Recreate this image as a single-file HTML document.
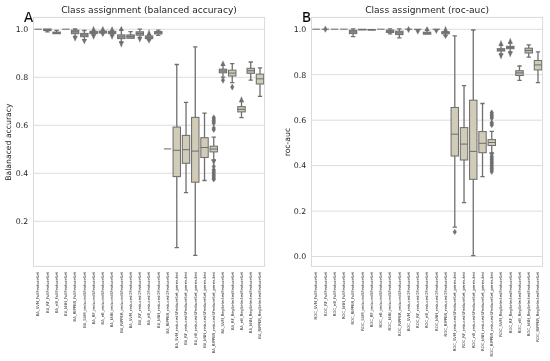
<!DOCTYPE html>
<html lang="en">
<head>
<meta charset="utf-8">
<title>Class assignment boxplots</title>
<style>
html,body{margin:0;padding:0;background:#fff;}
body{width:550px;height:361px;overflow:hidden;font-family:"DejaVu Sans","Liberation Sans",sans-serif;}
svg{display:block;}
</style>
</head>
<body>
<svg width="550" height="361" viewBox="0 0 550 361" font-family="'DejaVu Sans', 'Liberation Sans', sans-serif" fill="#262626">
<rect width="550" height="361" fill="#fff"/>
<g fill="none" stroke="#6f6f6f" stroke-width="1.05">
<line x1="33.5" x2="264.6" y1="29.3" y2="29.3" stroke="#dcdcdc" stroke-width="1"/>
<line x1="33.5" x2="264.6" y1="77.3" y2="77.3" stroke="#dcdcdc" stroke-width="1"/>
<line x1="33.5" x2="264.6" y1="125.3" y2="125.3" stroke="#dcdcdc" stroke-width="1"/>
<line x1="33.5" x2="264.6" y1="173.3" y2="173.3" stroke="#dcdcdc" stroke-width="1"/>
<line x1="33.5" x2="264.6" y1="221.3" y2="221.3" stroke="#dcdcdc" stroke-width="1"/>
<g><path d="M34.42 29.2H41.82"/></g>
<g><path d="M47.37 30.6V31.9M45.22 31.9H49.52" stroke-width="1.3"/><rect x="43.67" y="29" width="7.4" height="1.6" fill="#908f88"/><path d="M43.67 29.8H51.06"/></g>
<g><path d="M56.61 32.1V30.3M54.46 30.3H58.76" stroke-width="1.3"/><rect x="52.91" y="32.1" width="7.4" height="1.6" fill="#908f88"/><path d="M52.91 32.9H60.31"/></g>
<g><path d="M62.16 29.2H69.55"/></g>
<g><path d="M75.1 30.2V29M72.95 29H77.25" stroke-width="1.3"/><path d="M75.1 33.7V36.5M72.95 36.5H77.25" stroke-width="1.3"/><rect x="71.4" y="30.2" width="7.4" height="3.5" fill="#9d9b92"/><path d="M71.4 31.8H78.8"/><path d="M72.95 36.4H77.25L75.1 41.3Z" fill="#6f6f6f" stroke-width="0.3"/></g>
<g><path d="M84.34 33.4V30.5M82.19 30.5H86.49" stroke-width="1.3"/><path d="M84.34 36.7V39.7M82.19 39.7H86.49" stroke-width="1.3"/><rect x="80.64" y="33.4" width="7.4" height="3.3" fill="#98968e"/><path d="M80.64 35H88.04"/><path d="M82.19 39.3H86.49L84.34 44Z" fill="#6f6f6f" stroke-width="0.3"/></g>
<g><path d="M93.59 33.6V34.8M91.44 34.8H95.74" stroke-width="1.3"/><rect x="89.89" y="31.3" width="7.4" height="2.3" fill="#908f88"/><path d="M89.89 32.4H97.28"/><path d="M91.44 31.3H95.74L93.59 26.3Z" fill="#6f6f6f" stroke-width="0.3"/><path d="M91.44 34.6H95.74L93.59 39.4Z" fill="#6f6f6f" stroke-width="0.3"/></g>
<g><rect x="99.13" y="31.1" width="7.4" height="1.9" fill="#908f88"/><path d="M99.13 32H106.53"/><path d="M100.68 31.1H104.98L102.83 26.3Z" fill="#6f6f6f" stroke-width="0.3"/><path d="M100.68 33H104.98L102.83 36.7Z" fill="#6f6f6f" stroke-width="0.3"/></g>
<g><path d="M112.07 33.6V34.8M109.92 34.8H114.22" stroke-width="1.3"/><rect x="108.38" y="31.3" width="7.4" height="2.3" fill="#908f88"/><path d="M108.38 32.4H115.77"/><path d="M109.92 31.3H114.22L112.07 26.6Z" fill="#6f6f6f" stroke-width="0.3"/><path d="M109.92 34.6H114.22L112.07 39.4Z" fill="#6f6f6f" stroke-width="0.3"/></g>
<g><path d="M121.32 34.9V30.4M119.17 30.4H123.47" stroke-width="1.3"/><path d="M121.32 38.6V42M119.17 42H123.47" stroke-width="1.3"/><rect x="117.62" y="34.9" width="7.4" height="3.7" fill="#a2a095"/><path d="M117.62 36.8H125.02"/><path d="M119.17 30.6H123.47L121.32 26.3Z" fill="#6f6f6f" stroke-width="0.3"/><path d="M119.17 41.8H123.47L121.32 47.2Z" fill="#6f6f6f" stroke-width="0.3"/></g>
<g><path d="M130.56 34.9V31.7M128.41 31.7H132.71" stroke-width="1.3"/><rect x="126.86" y="34.9" width="7.4" height="3.4" fill="#9a9990"/><path d="M126.86 36.6H134.26"/></g>
<g><path d="M139.81 31.8V29.1M137.66 29.1H141.96" stroke-width="1.3"/><path d="M139.81 35.2V37.5M137.66 37.5H141.96" stroke-width="1.3"/><rect x="136.11" y="31.8" width="7.4" height="3.4" fill="#9a9990"/><path d="M136.11 33.5H143.5"/><path d="M137.66 37.3H141.96L139.81 42.3Z" fill="#6f6f6f" stroke-width="0.3"/></g>
<g><path d="M149.05 35.9V35M146.9 35H151.2" stroke-width="1.3"/><path d="M149.05 38.6V39.5M146.9 39.5H151.2" stroke-width="1.3"/><rect x="145.35" y="35.9" width="7.4" height="2.7" fill="#908f88"/><path d="M145.35 37.3H152.75"/><path d="M147.15 35H150.95L149.05 29.4Z" fill="#6f6f6f" stroke-width="0.3"/><path d="M146.9 39.3H151.2L149.05 43.3Z" fill="#6f6f6f" stroke-width="0.3"/></g>
<g><path d="M158.29 31.6V30.1M156.14 30.1H160.44" stroke-width="1.3"/><path d="M158.29 33.9V35.3M156.14 35.3H160.44" stroke-width="1.3"/><rect x="154.6" y="31.6" width="7.4" height="2.3" fill="#908f88"/><path d="M154.6 32.8H161.99"/></g>
<g><path d="M163.84 148.9H171.24"/></g>
<g><path d="M176.78 127.1V64.5M174.63 64.5H178.93" stroke-width="1.3"/><path d="M176.78 176.6V247.7M174.63 247.7H178.93" stroke-width="1.3"/><rect x="173.08" y="127.1" width="7.4" height="49.5" fill="#d0ccb8"/><path d="M173.08 150.3H180.48"/></g>
<g><path d="M186.03 135.4V102.3M183.88 102.3H188.18" stroke-width="1.3"/><path d="M186.03 163.3V192.7M183.88 192.7H188.18" stroke-width="1.3"/><rect x="182.33" y="135.4" width="7.4" height="27.9" fill="#d0ccb8"/><path d="M182.33 149.7H189.72"/></g>
<g><path d="M195.27 117.4V46.8M193.12 46.8H197.42" stroke-width="1.3"/><path d="M195.27 182.2V255.4M193.12 255.4H197.42" stroke-width="1.3"/><rect x="191.57" y="117.4" width="7.4" height="64.8" fill="#d0ccb8"/><path d="M191.57 151.1H198.97"/></g>
<g><path d="M204.51 137.7V113.1M202.36 113.1H206.66" stroke-width="1.3"/><path d="M204.51 157.5V180.5M202.36 180.5H206.66" stroke-width="1.3"/><rect x="200.82" y="137.7" width="7.4" height="19.8" fill="#d0ccb8"/><path d="M200.82 147.5H208.21"/></g>
<g><path d="M213.76 146.2V137.2M211.61 137.2H215.91" stroke-width="1.3"/><path d="M213.76 151.9V160M211.61 160H215.91" stroke-width="1.3"/><rect x="210.06" y="146.2" width="7.4" height="5.7" fill="#d0ccb8"/><path d="M210.06 149H217.46"/><path d="M213.76 114.8L215.56 117.5L213.76 120.2L211.96 117.5Z" fill="#6f6f6f" stroke-width="0.4"/><path d="M213.76 116.3L215.56 119L213.76 121.7L211.96 119Z" fill="#6f6f6f" stroke-width="0.4"/><path d="M213.76 117.8L215.56 120.5L213.76 123.2L211.96 120.5Z" fill="#6f6f6f" stroke-width="0.4"/><path d="M213.76 119.3L215.56 122L213.76 124.7L211.96 122Z" fill="#6f6f6f" stroke-width="0.4"/><path d="M213.76 120.6L215.56 123.3L213.76 126L211.96 123.3Z" fill="#6f6f6f" stroke-width="0.4"/><path d="M213.76 125.3L215.56 128L213.76 130.7L211.96 128Z" fill="#6f6f6f" stroke-width="0.4"/><path d="M213.76 127.1L215.56 129.8L213.76 132.5L211.96 129.8Z" fill="#6f6f6f" stroke-width="0.4"/><path d="M211.61 159.8H215.91L213.76 164.9Z" fill="#6f6f6f" stroke-width="0.3"/><path d="M213.76 163.7L215.56 166.4L213.76 169.1L211.96 166.4Z" fill="#6f6f6f" stroke-width="0.4"/><path d="M213.76 167L215.56 169.7L213.76 172.4L211.96 169.7Z" fill="#6f6f6f" stroke-width="0.4"/><path d="M213.76 168.3L215.56 171L213.76 173.7L211.96 171Z" fill="#6f6f6f" stroke-width="0.4"/><path d="M213.76 169.8L215.56 172.5L213.76 175.2L211.96 172.5Z" fill="#6f6f6f" stroke-width="0.4"/><path d="M213.76 171.3L215.56 174L213.76 176.7L211.96 174Z" fill="#6f6f6f" stroke-width="0.4"/><path d="M213.76 172.8L215.56 175.5L213.76 178.2L211.96 175.5Z" fill="#6f6f6f" stroke-width="0.4"/><path d="M213.76 174.3L215.56 177L213.76 179.7L211.96 177Z" fill="#6f6f6f" stroke-width="0.4"/><path d="M213.76 175.8L215.56 178.5L213.76 181.2L211.96 178.5Z" fill="#6f6f6f" stroke-width="0.4"/><path d="M213.76 176.7L215.56 179.4L213.76 182.1L211.96 179.4Z" fill="#6f6f6f" stroke-width="0.4"/></g>
<g><path d="M223 69.2V65.4M220.85 65.4H225.15" stroke-width="1.3"/><path d="M223 72.8V77.1M220.85 77.1H225.15" stroke-width="1.3"/><rect x="219.3" y="69.2" width="7.4" height="3.6" fill="#9f9e94"/><path d="M219.3 71H226.7"/><path d="M220.85 65.6H225.15L223 60.7Z" fill="#6f6f6f" stroke-width="0.3"/><path d="M223 77.1L224.75 80.2L223 83.3L221.25 80.2Z" fill="#6f6f6f" stroke-width="0.4"/></g>
<g><path d="M232.25 70.2V63.6M230.1 63.6H234.4" stroke-width="1.3"/><path d="M232.25 76V82.7M230.1 82.7H234.4" stroke-width="1.3"/><rect x="228.55" y="70.2" width="7.4" height="5.8" fill="#d0ccb8"/><path d="M228.55 73.1H235.94"/><path d="M232.25 84L234 87.1L232.25 90.2L230.5 87.1Z" fill="#6f6f6f" stroke-width="0.4"/></g>
<g><path d="M241.49 106.6V101.6M239.34 101.6H243.64" stroke-width="1.3"/><path d="M241.49 111.9V117.7M239.34 117.7H243.64" stroke-width="1.3"/><rect x="237.79" y="106.6" width="7.4" height="5.3" fill="#cbc7b4"/><path d="M237.79 109.3H245.19"/><path d="M239.34 101.8H243.64L241.49 96.6Z" fill="#6f6f6f" stroke-width="0.3"/></g>
<g><path d="M250.73 68.3V62M248.58 62H252.88" stroke-width="1.3"/><path d="M250.73 73.3V80.1M248.58 80.1H252.88" stroke-width="1.3"/><rect x="247.04" y="68.3" width="7.4" height="5" fill="#c3c0ae"/><path d="M247.04 70.7H254.43"/></g>
<g><path d="M259.98 74.1V67.8M257.83 67.8H262.13" stroke-width="1.3"/><path d="M259.98 84V96.3M257.83 96.3H262.13" stroke-width="1.3"/><rect x="256.28" y="74.1" width="7.4" height="9.9" fill="#d0ccb8"/><path d="M256.28 78.8H263.68"/></g>
</g>
<rect x="33.5" y="17.4" width="231.1" height="249" fill="none" stroke="#dadada" stroke-width="1"/>
<text x="28.2" y="32.1" font-size="7.8" text-anchor="end">1.0</text>
<text x="28.2" y="80.1" font-size="7.8" text-anchor="end">0.8</text>
<text x="28.2" y="128.1" font-size="7.8" text-anchor="end">0.6</text>
<text x="28.2" y="176.1" font-size="7.8" text-anchor="end">0.4</text>
<text x="28.2" y="224.1" font-size="7.8" text-anchor="end">0.2</text>
<text x="149.05" y="13.4" font-size="9.15" text-anchor="middle">Class assignment (balanced accuracy)</text>
<text transform="translate(10.6 142.1) rotate(-90)" font-size="7.7" text-anchor="middle">Balanaced accuracy</text>
<text x="24" y="21.65" font-size="13.3" fill="#000" stroke="#000" stroke-width="0.12">A</text>
<text transform="translate(39.42 272.0) rotate(-90) scale(0.1)" font-size="38.1" text-anchor="end" fill="#363636">BA_SVM_FullFeatureSet</text>
<text transform="translate(48.67 272.0) rotate(-90) scale(0.1)" font-size="38.1" text-anchor="end" fill="#363636">BA_RF_FullFeatureSet</text>
<text transform="translate(57.91 272.0) rotate(-90) scale(0.1)" font-size="38.1" text-anchor="end" fill="#363636">BA_nB_FullFeatureSet</text>
<text transform="translate(67.15 272.0) rotate(-90) scale(0.1)" font-size="38.1" text-anchor="end" fill="#363636">BA_kNN_FullFeatureSet</text>
<text transform="translate(76.4 272.0) rotate(-90) scale(0.1)" font-size="38.1" text-anchor="end" fill="#363636">BA_RIPPER_FullFeatureSet</text>
<text transform="translate(85.64 272.0) rotate(-90) scale(0.1)" font-size="38.1" text-anchor="end" fill="#363636">BA_SVM_reducedSFeatureSet</text>
<text transform="translate(94.89 272.0) rotate(-90) scale(0.1)" font-size="38.1" text-anchor="end" fill="#363636">BA_RF_reducedSFeatureSet</text>
<text transform="translate(104.13 272.0) rotate(-90) scale(0.1)" font-size="38.1" text-anchor="end" fill="#363636">BA_nB_reducedSFeatureSet</text>
<text transform="translate(113.37 272.0) rotate(-90) scale(0.1)" font-size="38.1" text-anchor="end" fill="#363636">BA_kNN_reducedSFeatureSet</text>
<text transform="translate(122.62 272.0) rotate(-90) scale(0.1)" font-size="38.1" text-anchor="end" fill="#363636">BA_RIPPER_reducedSFeatureSet</text>
<text transform="translate(131.86 272.0) rotate(-90) scale(0.1)" font-size="38.1" text-anchor="end" fill="#363636">BA_SVM_reducedGFeatureSet</text>
<text transform="translate(141.11 272.0) rotate(-90) scale(0.1)" font-size="38.1" text-anchor="end" fill="#363636">BA_RF_reducedGFeatureSet</text>
<text transform="translate(150.35 272.0) rotate(-90) scale(0.1)" font-size="38.1" text-anchor="end" fill="#363636">BA_nB_reducedGFeatureSet</text>
<text transform="translate(159.59 272.0) rotate(-90) scale(0.1)" font-size="38.1" text-anchor="end" fill="#363636">BA_kNN_reducedGFeatureSet</text>
<text transform="translate(168.84 272.0) rotate(-90) scale(0.1)" font-size="38.1" text-anchor="end" fill="#363636">BA_RIPPER_reducedGFeatureSet</text>
<text transform="translate(178.08 272.0) rotate(-90) scale(0.1)" font-size="38.1" text-anchor="end" fill="#363636">BA_SVM_reducedSFeatureSet_permuted</text>
<text transform="translate(187.33 272.0) rotate(-90) scale(0.1)" font-size="38.1" text-anchor="end" fill="#363636">BA_RF_reducedSFeatureSet_permuted</text>
<text transform="translate(196.57 272.0) rotate(-90) scale(0.1)" font-size="38.1" text-anchor="end" fill="#363636">BA_nB_reducedSFeatureSet_permuted</text>
<text transform="translate(205.81 272.0) rotate(-90) scale(0.1)" font-size="38.1" text-anchor="end" fill="#363636">BA_kNN_reducedSFeatureSet_permuted</text>
<text transform="translate(215.06 272.0) rotate(-90) scale(0.1)" font-size="38.1" text-anchor="end" fill="#363636">BA_RIPPER_reducedSFeatureSet_permuted</text>
<text transform="translate(224.3 272.0) rotate(-90) scale(0.1)" font-size="38.1" text-anchor="end" fill="#363636">BA_SVM_RegSelectedFeatureSet</text>
<text transform="translate(233.55 272.0) rotate(-90) scale(0.1)" font-size="38.1" text-anchor="end" fill="#363636">BA_RF_RegSelectedFeatureSet</text>
<text transform="translate(242.79 272.0) rotate(-90) scale(0.1)" font-size="38.1" text-anchor="end" fill="#363636">BA_nB_RegSelectedFeatureSet</text>
<text transform="translate(252.03 272.0) rotate(-90) scale(0.1)" font-size="38.1" text-anchor="end" fill="#363636">BA_kNN_RegSelectedFeatureSet</text>
<text transform="translate(261.28 272.0) rotate(-90) scale(0.1)" font-size="38.1" text-anchor="end" fill="#363636">BA_RIPPER_RegSelectedFeatureSet</text>
<g fill="none" stroke="#6f6f6f" stroke-width="1.05">
<line x1="311.5" x2="542.6" y1="29.3" y2="29.3" stroke="#dcdcdc" stroke-width="1"/>
<line x1="311.5" x2="542.6" y1="74.7" y2="74.7" stroke="#dcdcdc" stroke-width="1"/>
<line x1="311.5" x2="542.6" y1="120.2" y2="120.2" stroke="#dcdcdc" stroke-width="1"/>
<line x1="311.5" x2="542.6" y1="165.6" y2="165.6" stroke="#dcdcdc" stroke-width="1"/>
<line x1="311.5" x2="542.6" y1="211.1" y2="211.1" stroke="#dcdcdc" stroke-width="1"/>
<line x1="311.5" x2="542.6" y1="256.5" y2="256.5" stroke="#dcdcdc" stroke-width="1"/>
<g><path d="M312.42 29.2H319.82"/></g>
<g><path d="M321.67 29.2H329.06"/><path d="M325.37 26.1L327.12 29.2L325.37 32.3L323.62 29.2Z" fill="#6f6f6f" stroke-width="0.4"/></g>
<g><path d="M330.91 29.2H338.31"/></g>
<g><path d="M340.16 29.2H347.55"/></g>
<g><path d="M353.1 30.3V28.9M350.95 28.9H355.25" stroke-width="1.3"/><path d="M353.1 33.6V36.6M350.95 36.6H355.25" stroke-width="1.3"/><rect x="349.4" y="30.3" width="7.4" height="3.3" fill="#98968e"/><path d="M349.4 31.9H356.8"/></g>
<g><rect x="358.64" y="29.3" width="7.4" height="0.6" fill="#908f88"/><path d="M358.64 29.6H366.04"/></g>
<g><rect x="367.89" y="29.5" width="7.4" height="0.6" fill="#908f88"/><path d="M367.89 29.8H375.28"/></g>
<g><path d="M377.13 29.2H384.53"/></g>
<g><path d="M390.07 30.1V28.9M387.92 28.9H392.22" stroke-width="1.3"/><path d="M390.07 32.4V33.8M387.92 33.8H392.22" stroke-width="1.3"/><rect x="386.38" y="30.1" width="7.4" height="2.3" fill="#908f88"/><path d="M386.38 31.2H393.77"/></g>
<g><path d="M399.32 31.2V28.9M397.17 28.9H401.47" stroke-width="1.3"/><path d="M399.32 34.6V37.8M397.17 37.8H401.47" stroke-width="1.3"/><rect x="395.62" y="31.2" width="7.4" height="3.4" fill="#9a9990"/><path d="M395.62 32.9H403.02"/></g>
<g><path d="M404.86 29.2H412.26"/><path d="M408.56 26.4L410.31 29.5L408.56 32.6L406.81 29.5Z" fill="#6f6f6f" stroke-width="0.4"/></g>
<g><path d="M414.11 29.3H421.5"/><path d="M415.21 29.3H420.41L417.81 34.3Z" fill="#6f6f6f" stroke-width="0.3"/></g>
<g><path d="M427.05 32.2V30.3M424.9 30.3H429.2" stroke-width="1.3"/><rect x="423.35" y="32.2" width="7.4" height="2" fill="#908f88"/><path d="M423.35 33.2H430.75"/><path d="M424.9 30.5H429.2L427.05 26.6Z" fill="#6f6f6f" stroke-width="0.3"/></g>
<g><path d="M432.6 29.2H439.99"/><path d="M433.89 29.2H438.69L436.29 33.6Z" fill="#6f6f6f" stroke-width="0.3"/></g>
<g><path d="M445.54 33.8V35.2M443.39 35.2H447.69" stroke-width="1.3"/><rect x="441.84" y="31.7" width="7.4" height="2.1" fill="#908f88"/><path d="M441.84 32.7H449.24"/><path d="M443.39 31.7H447.69L445.54 26.2Z" fill="#6f6f6f" stroke-width="0.3"/><path d="M443.39 35H447.69L445.54 38.7Z" fill="#6f6f6f" stroke-width="0.3"/></g>
<g><path d="M454.78 107.5V35.8M452.63 35.8H456.93" stroke-width="1.3"/><path d="M454.78 156V227.2M452.63 227.2H456.93" stroke-width="1.3"/><rect x="451.08" y="107.5" width="7.4" height="48.5" fill="#d0ccb8"/><path d="M451.08 134.2H458.48"/><path d="M454.78 229.2L456.58 231.9L454.78 234.6L452.98 231.9Z" fill="#6f6f6f" stroke-width="0.4"/></g>
<g><path d="M464.03 127.6V85.7M461.88 85.7H466.18" stroke-width="1.3"/><path d="M464.03 160V202.7M461.88 202.7H466.18" stroke-width="1.3"/><rect x="460.33" y="127.6" width="7.4" height="32.4" fill="#d0ccb8"/><path d="M460.33 144.1H467.72"/></g>
<g><path d="M473.27 100.2V30M471.12 30H475.42" stroke-width="1.3"/><path d="M473.27 179.3V255.7M471.12 255.7H475.42" stroke-width="1.3"/><rect x="469.57" y="100.2" width="7.4" height="79.1" fill="#d0ccb8"/><path d="M469.57 151.4H476.97"/></g>
<g><path d="M482.51 131.6V103.5M480.36 103.5H484.66" stroke-width="1.3"/><path d="M482.51 152.7V176.6M480.36 176.6H484.66" stroke-width="1.3"/><rect x="478.82" y="131.6" width="7.4" height="21.1" fill="#d0ccb8"/><path d="M478.82 143.3H486.21"/></g>
<g><path d="M491.76 139.6V131.4M489.61 131.4H493.91" stroke-width="1.3"/><path d="M491.76 145.5V153M489.61 153H493.91" stroke-width="1.3"/><rect x="488.06" y="139.6" width="7.4" height="5.9" fill="#d0ccb8"/><path d="M488.06 142.5H495.46"/><path d="M491.76 109.8L493.56 112.5L491.76 115.2L489.96 112.5Z" fill="#6f6f6f" stroke-width="0.4"/><path d="M491.76 111.3L493.56 114L491.76 116.7L489.96 114Z" fill="#6f6f6f" stroke-width="0.4"/><path d="M491.76 112.8L493.56 115.5L491.76 118.2L489.96 115.5Z" fill="#6f6f6f" stroke-width="0.4"/><path d="M491.76 114.3L493.56 117L491.76 119.7L489.96 117Z" fill="#6f6f6f" stroke-width="0.4"/><path d="M491.76 115.5L493.56 118.2L491.76 120.9L489.96 118.2Z" fill="#6f6f6f" stroke-width="0.4"/><path d="M491.76 119.8L493.56 122.5L491.76 125.2L489.96 122.5Z" fill="#6f6f6f" stroke-width="0.4"/><path d="M491.76 121.3L493.56 124L491.76 126.7L489.96 124Z" fill="#6f6f6f" stroke-width="0.4"/><path d="M491.76 122.3L493.56 125L491.76 127.7L489.96 125Z" fill="#6f6f6f" stroke-width="0.4"/><path d="M489.61 152.8H493.91L491.76 157.5Z" fill="#6f6f6f" stroke-width="0.3"/><path d="M491.76 153.8L493.56 156.5L491.76 159.2L489.96 156.5Z" fill="#6f6f6f" stroke-width="0.4"/><path d="M491.76 155.3L493.56 158L491.76 160.7L489.96 158Z" fill="#6f6f6f" stroke-width="0.4"/><path d="M491.76 156.8L493.56 159.5L491.76 162.2L489.96 159.5Z" fill="#6f6f6f" stroke-width="0.4"/><path d="M491.76 158.3L493.56 161L491.76 163.7L489.96 161Z" fill="#6f6f6f" stroke-width="0.4"/><path d="M491.76 159.8L493.56 162.5L491.76 165.2L489.96 162.5Z" fill="#6f6f6f" stroke-width="0.4"/><path d="M491.76 161.3L493.56 164L491.76 166.7L489.96 164Z" fill="#6f6f6f" stroke-width="0.4"/><path d="M491.76 162.8L493.56 165.5L491.76 168.2L489.96 165.5Z" fill="#6f6f6f" stroke-width="0.4"/><path d="M491.76 164.3L493.56 167L491.76 169.7L489.96 167Z" fill="#6f6f6f" stroke-width="0.4"/><path d="M491.76 165.8L493.56 168.5L491.76 171.2L489.96 168.5Z" fill="#6f6f6f" stroke-width="0.4"/><path d="M491.76 167.3L493.56 170L491.76 172.7L489.96 170Z" fill="#6f6f6f" stroke-width="0.4"/><path d="M491.76 169.1L493.56 171.8L491.76 174.5L489.96 171.8Z" fill="#6f6f6f" stroke-width="0.4"/></g>
<g><path d="M501 48.7V45.4M498.85 45.4H503.15" stroke-width="1.3"/><path d="M501 51V54M498.85 54H503.15" stroke-width="1.3"/><rect x="497.3" y="48.7" width="7.4" height="2.3" fill="#908f88"/><path d="M497.3 50H504.7"/><path d="M498.85 45.6H503.15L501 40.4Z" fill="#6f6f6f" stroke-width="0.3"/><path d="M498.85 53.8H503.15L501 58.9Z" fill="#6f6f6f" stroke-width="0.3"/></g>
<g><path d="M510.25 46.3V43.2M508.1 43.2H512.4" stroke-width="1.3"/><path d="M510.25 48.7V52M508.1 52H512.4" stroke-width="1.3"/><rect x="506.55" y="46.3" width="7.4" height="2.4" fill="#908f88"/><path d="M506.55 47.5H513.94"/><path d="M508.1 43.4H512.4L510.25 38.2Z" fill="#6f6f6f" stroke-width="0.3"/><path d="M508.1 51.8H512.4L510.25 56.9Z" fill="#6f6f6f" stroke-width="0.3"/></g>
<g><path d="M519.49 70.7V66M517.34 66H521.64" stroke-width="1.3"/><path d="M519.49 75.5V80.4M517.34 80.4H521.64" stroke-width="1.3"/><rect x="515.79" y="70.7" width="7.4" height="4.8" fill="#bebbab"/><path d="M515.79 72.9H523.19"/></g>
<g><path d="M528.73 48.2V44.9M526.58 44.9H530.88" stroke-width="1.3"/><path d="M528.73 53V57.1M526.58 57.1H530.88" stroke-width="1.3"/><rect x="525.04" y="48.2" width="7.4" height="4.8" fill="#bebbab"/><path d="M525.04 50.5H532.43"/></g>
<g><path d="M537.98 60.5V51.9M535.83 51.9H540.13" stroke-width="1.3"/><path d="M537.98 69.9V82.7M535.83 82.7H540.13" stroke-width="1.3"/><rect x="534.28" y="60.5" width="7.4" height="9.4" fill="#d0ccb8"/><path d="M534.28 64.9H541.68"/></g>
</g>
<rect x="311.5" y="17.4" width="231.1" height="249" fill="none" stroke="#dadada" stroke-width="1"/>
<text x="306.2" y="32.1" font-size="7.8" text-anchor="end">1.0</text>
<text x="306.2" y="77.5" font-size="7.8" text-anchor="end">0.8</text>
<text x="306.2" y="123" font-size="7.8" text-anchor="end">0.6</text>
<text x="306.2" y="168.4" font-size="7.8" text-anchor="end">0.4</text>
<text x="306.2" y="213.9" font-size="7.8" text-anchor="end">0.2</text>
<text x="306.2" y="259.3" font-size="7.8" text-anchor="end">0.0</text>
<text x="427.05" y="13.4" font-size="9.15" text-anchor="middle">Class assignment (roc-auc)</text>
<text transform="translate(289.7 142.1) rotate(-90)" font-size="7.7" text-anchor="middle">roc-auc</text>
<text x="301.9" y="21.65" font-size="13.3" fill="#000" stroke="#000" stroke-width="0.12">B</text>
<text transform="translate(317.42 272.0) rotate(-90) scale(0.1)" font-size="38.1" text-anchor="end" fill="#363636">ROC_SVM_FullFeatureSet</text>
<text transform="translate(326.67 272.0) rotate(-90) scale(0.1)" font-size="38.1" text-anchor="end" fill="#363636">ROC_RF_FullFeatureSet</text>
<text transform="translate(335.91 272.0) rotate(-90) scale(0.1)" font-size="38.1" text-anchor="end" fill="#363636">ROC_nB_FullFeatureSet</text>
<text transform="translate(345.15 272.0) rotate(-90) scale(0.1)" font-size="38.1" text-anchor="end" fill="#363636">ROC_kNN_FullFeatureSet</text>
<text transform="translate(354.4 272.0) rotate(-90) scale(0.1)" font-size="38.1" text-anchor="end" fill="#363636">ROC_RIPPER_FullFeatureSet</text>
<text transform="translate(363.64 272.0) rotate(-90) scale(0.1)" font-size="38.1" text-anchor="end" fill="#363636">ROC_SVM_reducedSFeatureSet</text>
<text transform="translate(372.89 272.0) rotate(-90) scale(0.1)" font-size="38.1" text-anchor="end" fill="#363636">ROC_RF_reducedSFeatureSet</text>
<text transform="translate(382.13 272.0) rotate(-90) scale(0.1)" font-size="38.1" text-anchor="end" fill="#363636">ROC_nB_reducedSFeatureSet</text>
<text transform="translate(391.37 272.0) rotate(-90) scale(0.1)" font-size="38.1" text-anchor="end" fill="#363636">ROC_kNN_reducedSFeatureSet</text>
<text transform="translate(400.62 272.0) rotate(-90) scale(0.1)" font-size="38.1" text-anchor="end" fill="#363636">ROC_RIPPER_reducedSFeatureSet</text>
<text transform="translate(409.86 272.0) rotate(-90) scale(0.1)" font-size="38.1" text-anchor="end" fill="#363636">ROC_SVM_reducedGFeatureSet</text>
<text transform="translate(419.11 272.0) rotate(-90) scale(0.1)" font-size="38.1" text-anchor="end" fill="#363636">ROC_RF_reducedGFeatureSet</text>
<text transform="translate(428.35 272.0) rotate(-90) scale(0.1)" font-size="38.1" text-anchor="end" fill="#363636">ROC_nB_reducedGFeatureSet</text>
<text transform="translate(437.59 272.0) rotate(-90) scale(0.1)" font-size="38.1" text-anchor="end" fill="#363636">ROC_kNN_reducedGFeatureSet</text>
<text transform="translate(446.84 272.0) rotate(-90) scale(0.1)" font-size="38.1" text-anchor="end" fill="#363636">ROC_RIPPER_reducedGFeatureSet</text>
<text transform="translate(456.08 272.0) rotate(-90) scale(0.1)" font-size="38.1" text-anchor="end" fill="#363636">ROC_SVM_reducedSFeatureSet_permuted</text>
<text transform="translate(465.33 272.0) rotate(-90) scale(0.1)" font-size="38.1" text-anchor="end" fill="#363636">ROC_RF_reducedSFeatureSet_permuted</text>
<text transform="translate(474.57 272.0) rotate(-90) scale(0.1)" font-size="38.1" text-anchor="end" fill="#363636">ROC_nB_reducedSFeatureSet_permuted</text>
<text transform="translate(483.81 272.0) rotate(-90) scale(0.1)" font-size="38.1" text-anchor="end" fill="#363636">ROC_kNN_reducedSFeatureSet_permuted</text>
<text transform="translate(493.06 272.0) rotate(-90) scale(0.1)" font-size="38.1" text-anchor="end" fill="#363636">ROC_RIPPER_reducedSFeatureSet_permuted</text>
<text transform="translate(502.3 272.0) rotate(-90) scale(0.1)" font-size="38.1" text-anchor="end" fill="#363636">ROC_SVM_RegSelectedFeatureSet</text>
<text transform="translate(511.55 272.0) rotate(-90) scale(0.1)" font-size="38.1" text-anchor="end" fill="#363636">ROC_RF_RegSelectedFeatureSet</text>
<text transform="translate(520.79 272.0) rotate(-90) scale(0.1)" font-size="38.1" text-anchor="end" fill="#363636">ROC_nB_RegSelectedFeatureSet</text>
<text transform="translate(530.03 272.0) rotate(-90) scale(0.1)" font-size="38.1" text-anchor="end" fill="#363636">ROC_kNN_RegSelectedFeatureSet</text>
<text transform="translate(539.28 272.0) rotate(-90) scale(0.1)" font-size="38.1" text-anchor="end" fill="#363636">ROC_RIPPER_RegSelectedFeatureSet</text>
</svg>
</body>
</html>
